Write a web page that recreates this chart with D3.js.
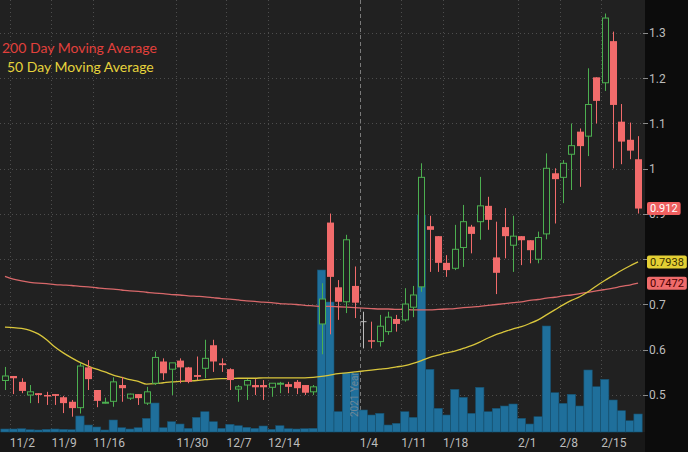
<!DOCTYPE html>
<html><head><meta charset="utf-8">
<script src="https://cdnjs.cloudflare.com/ajax/libs/d3/7.8.5/d3.min.js"></script>
<style>html,body{margin:0;padding:0;background:#0c0c0c;}svg{display:block;}</style>
</head><body><svg id="c" width="688" height="452"></svg>
<script>
// ---- data ----
const opens  = [0.532,0.542,0.529,0.500,0.504,0.500,0.502,0.495,0.485,0.472,0.561,0.511,0.482,0.486,0.522,0.493,0.502,0.482,0.526,0.574,0.557,0.576,0.561,0.544,0.559,0.610,0.570,0.557,0.513,0.522,0.522,0.522,0.517,0.524,0.524,0.529,0.522,0.507,0.657,0.881,0.738,0.706,0.741,0.662,0.621,0.618,0.640,0.668,0.666,0.694,0.739,0.873,0.851,0.792,0.780,0.826,0.872,0.883,0.918,0.804,0.871,0.831,0.851,0.842,0.800,0.856,0.990,0.981,1.032,1.082,1.072,1.202,1.190,1.282,1.104,1.064,1.021];
const highs  = [0.562,0.542,0.537,0.522,0.504,0.507,0.502,0.498,0.489,0.571,0.577,0.511,0.494,0.539,0.540,0.503,0.502,0.518,0.596,0.581,0.571,0.581,0.562,0.585,0.622,0.622,0.581,0.559,0.522,0.535,0.535,0.533,0.526,0.529,0.529,0.533,0.522,0.522,0.747,0.901,0.754,0.854,0.784,0.684,0.662,0.677,0.684,0.677,0.736,0.741,1.012,0.896,0.851,0.809,0.876,0.920,0.876,0.982,0.938,0.883,0.913,0.896,0.851,0.842,0.861,1.034,1.001,1.019,1.100,1.089,1.222,1.202,1.343,1.303,1.143,1.102,1.072];
const lows   = [0.511,0.502,0.504,0.482,0.482,0.478,0.478,0.460,0.452,0.459,0.511,0.473,0.481,0.474,0.485,0.489,0.478,0.478,0.522,0.533,0.500,0.526,0.526,0.533,0.537,0.551,0.551,0.511,0.485,0.489,0.500,0.489,0.496,0.504,0.504,0.502,0.500,0.500,0.590,0.634,0.666,0.681,0.670,0.603,0.603,0.607,0.633,0.640,0.662,0.672,0.728,0.772,0.772,0.761,0.776,0.783,0.813,0.843,0.865,0.723,0.802,0.772,0.787,0.791,0.791,0.844,0.879,0.924,0.953,0.960,1.028,1.100,1.172,1.001,1.010,1.021,0.901];
const closes = [0.542,0.537,0.509,0.507,0.500,0.4985,0.498,0.482,0.471,0.564,0.535,0.487,0.484,0.529,0.515,0.502,0.493,0.507,0.583,0.548,0.571,0.561,0.529,0.540,0.581,0.574,0.566,0.533,0.518,0.532,0.517,0.517,0.526,0.526,0.518,0.515,0.505,0.518,0.712,0.761,0.706,0.843,0.704,0.662,0.618,0.652,0.672,0.657,0.701,0.721,0.981,0.865,0.792,0.776,0.822,0.883,0.856,0.918,0.887,0.770,0.851,0.851,0.842,0.820,0.848,1.001,0.977,1.012,1.051,1.050,1.142,1.150,1.333,1.141,1.060,1.040,0.912];
const volumes = [0.15,0.15,0.165,0.115,0.10,0.135,0.15,0.135,0.115,0.80,0.35,0.25,0.10,0.60,0.215,0.15,0.215,0.685,1.45,0.215,0.515,0.40,0.185,0.735,1.015,0.515,0.185,0.385,0.315,0.235,0.185,0.30,0.135,0.315,0.165,0.15,0.165,0.185,8.10,6.50,1.02,2.95,2.95,1.10,0.85,0.935,0.35,0.435,1.015,0.735,10.85,3.135,1.185,0.85,2.135,1.735,0.935,2.235,1.015,1.185,1.30,1.40,0.685,0.40,0.765,5.30,1.965,1.435,1.885,1.30,3.10,2.265,2.635,1.60,1.065,0.565,0.90];
const ma200 = [0.762,0.756,0.752,0.749,0.747,0.746,0.744,0.743,0.742,0.740,0.739,0.737,0.735,0.734,0.732,0.730,0.729,0.727,0.725,0.724,0.722,0.721,0.719,0.718,0.717,0.715,0.713,0.712,0.710,0.708,0.707,0.705,0.704,0.702,0.701,0.700,0.698,0.697,0.696,0.696,0.695,0.694,0.693,0.692,0.691,0.690,0.690,0.689,0.689,0.688,0.688,0.688,0.689,0.690,0.691,0.693,0.694,0.696,0.698,0.700,0.702,0.704,0.706,0.709,0.711,0.714,0.716,0.719,0.721,0.724,0.727,0.730,0.733,0.736,0.740,0.743,0.747];
const ma50 = [0.650,0.649,0.647,0.643,0.635,0.622,0.606,0.593,0.582,0.572,0.564,0.557,0.551,0.544,0.539,0.534,0.530,0.524,0.525,0.527,0.529,0.530,0.531,0.532,0.534,0.535,0.536,0.536,0.537,0.537,0.537,0.538,0.538,0.538,0.538,0.538,0.538,0.539,0.541,0.544,0.547,0.549,0.551,0.553,0.555,0.557,0.559,0.562,0.565,0.570,0.576,0.583,0.588,0.593,0.597,0.603,0.609,0.617,0.626,0.634,0.640,0.646,0.651,0.658,0.666,0.677,0.688,0.699,0.709,0.717,0.728,0.741,0.753,0.764,0.775,0.785,0.794];
const dateLabels = ["11/2","11/9","11/16","11/30","12/7","12/14","1/4","1/11","1/18","2/1","2/8","2/15"];
const dateIndex  = [1,6,11,21,27,32,43,48,53,62,67,72];
const priceTicks = [0.5,0.6,0.7,0.8,0.9,1.0,1.1,1.2,1.3];
const hiddenTickLabels = [0.8];   // covered by the 50-day value box in the reference
const yearMarkIndex = 43;
const yearMarkText = "2021 Year";
const legendLabels = ["200 Day Moving Average","50 Day Moving Average"];
const lastLabels = [{v:0.912,t:"0.912"},{v:0.7938,t:"0.7938"},{v:0.7472,t:"0.7472"}];

// ---- layout ----
const W=688,H=452, PR=645, PB=432;
const svg = d3.select("#c");
const n = opens.length;
const x = d3.scaleBand().domain(d3.range(n)).range([0.8, 642.2]).padding(0);
const cx = i => x(i) + x.bandwidth()/2;
const y = d3.scaleLinear().domain([0.4182, 1.3729]).range([PB, 0]);
const yVol = d3.scaleLinear().domain([0, 21.6]).range([PB, 0]);

const RED="#f26b6b", GREEN="#4caf50";

svg.append("rect").attr("width",W).attr("height",H).attr("fill","#0c0c0c");
svg.append("rect").attr("width",PR).attr("height",PB).attr("fill","#212121");
svg.append("rect").attr("y",PB).attr("width",PR).attr("height",H-PB).attr("fill","#181818");

// grid
const g = svg.append("g");
g.selectAll("line.h").data(priceTicks).join("line")
  .attr("x1",0).attr("x2",PR).attr("y1",d=>Math.round(y(d))+0.5).attr("y2",d=>Math.round(y(d))+0.5)
  .attr("stroke","#4d4d4d").attr("stroke-dasharray","1,3");
g.selectAll("line.v").data(dateIndex.filter(i=>i!==yearMarkIndex)).join("line")
  .attr("x1",d=>Math.round(x(d)+0.7)+0.5).attr("x2",d=>Math.round(x(d)+0.7)+0.5).attr("y1",0).attr("y2",PB)
  .attr("stroke","#4d4d4d").attr("stroke-dasharray","1,3");
const yx = Math.round(x(yearMarkIndex)+0.7)+0.5;
g.append("line").attr("x1",yx).attr("x2",yx).attr("y1",0).attr("y2",PB)
  .attr("stroke","#7a7a7a").attr("stroke-dasharray","4,3");

// volume
svg.append("g").selectAll("rect").data(volumes).join("rect")
  .attr("x",(d,i)=>x(i)).attr("width",x.bandwidth())
  .attr("y",d=>yVol(d)).attr("height",d=>PB-yVol(d))
  .attr("fill","#1f6f9b").attr("stroke","#17506f").attr("stroke-width",0.6);

// year text
svg.append("text").attr("transform",`translate(${yx-2.5},417) rotate(-90)`)
  .attr("font-family","Roboto, 'Open Sans', sans-serif").attr("font-size",10)
  .attr("fill","#6f8796").text(yearMarkText);

// moving averages
const line = arr => d3.line().x((d,i)=>cx(i)).y(d=>y(d)).curve(d3.curveMonotoneX)(arr);
svg.append("path").attr("d",line(ma200)).attr("fill","none").attr("stroke","#d8686a").attr("stroke-width",1.3);
svg.append("path").attr("d",line(ma50)).attr("fill","none").attr("stroke","#d9c63c").attr("stroke-width",1.3);

// candles
const cg = svg.append("g");
const bw = 6;
d3.range(n).forEach(i=>{
  const o=opens[i], c=closes[i], h=highs[i], l=lows[i];
  const up = c>o, flat = c===o;
  const col = flat ? "#bdbdbd" : (up ? GREEN : RED);
  const xc = Math.round(cx(i))+0.5;
  cg.append("line").attr("x1",xc).attr("x2",xc).attr("y1",y(h)).attr("y2",y(l)).attr("stroke",col).attr("stroke-width",1);
  const top = y(Math.max(o,c)), bot = y(Math.min(o,c));
  if (flat) {
    cg.append("line").attr("x1",xc-3).attr("x2",xc+3).attr("y1",top).attr("y2",top).attr("stroke",col);
  } else if (up) {
    cg.append("rect").attr("x",xc-bw/2).attr("width",bw).attr("y",top).attr("height",Math.max(1,bot-top))
      .attr("fill","#212121").attr("stroke",col).attr("stroke-width",1);
  } else {
    cg.append("rect").attr("x",xc-bw/2-0.5).attr("width",bw+1).attr("y",top).attr("height",Math.max(1.5,bot-top))
      .attr("fill",col);
  }
});

// legend
svg.append("text").attr("x",2).attr("y",53).attr("font-family","Lato, sans-serif").attr("font-size",14)
  .attr("fill","#e2403c").text(legendLabels[0]);
svg.append("text").attr("x",7).attr("y",72).attr("font-family","Lato, sans-serif").attr("font-size",14)
  .attr("fill","#e6d33c").text(legendLabels[1]);

// x axis labels
svg.append("g").selectAll("text").data(dateIndex).join("text")
  .attr("x",d=>x(d)+0.7).attr("y",446.5)
  .attr("font-family","Roboto, 'Open Sans', sans-serif").attr("font-size",12).attr("fill","#bdbdbd")
  .text((d,i)=>dateLabels[i]);

// y axis
const ya = svg.append("g");
ya.selectAll("line").data(priceTicks).join("line")
  .attr("x1",PR-2).attr("x2",PR+3).attr("y1",d=>Math.round(y(d))+0.5).attr("y2",d=>Math.round(y(d))+0.5)
  .attr("stroke","#8a8a8a");
ya.selectAll("text").data(priceTicks.filter(v=>!hiddenTickLabels.includes(v))).join("text")
  .attr("x",649).attr("y",d=>y(d)).attr("dy","0.36em")
  .attr("font-family","Roboto, 'Open Sans', sans-serif").attr("font-size",12).attr("fill","#bdbdbd")
  .text(d=>String(+d.toFixed(1)));

// last-value boxes
const boxCols = [{bg:"#ef5f5f",fg:"#ffffff"},{bg:"#e3cf34",fg:"#3a3000"},{bg:"#ef6b6b",fg:"#4a0000"}];
lastLabels.forEach((b,k)=>{
  const yy = y(b.v);
  const t = svg.append("text").attr("x",650).attr("y",yy).attr("dy","0.35em")
    .attr("font-family","Roboto, 'Open Sans', sans-serif").attr("font-size",11).attr("fill",boxCols[k].fg).text(b.t);
  const bb = t.node().getBBox();
  svg.insert("rect", () => t.node()).attr("x",647).attr("y",yy-6.5).attr("width",bb.width+6).attr("height",13)
    .attr("rx",2).attr("fill",boxCols[k].bg);
});
</script></body></html>
